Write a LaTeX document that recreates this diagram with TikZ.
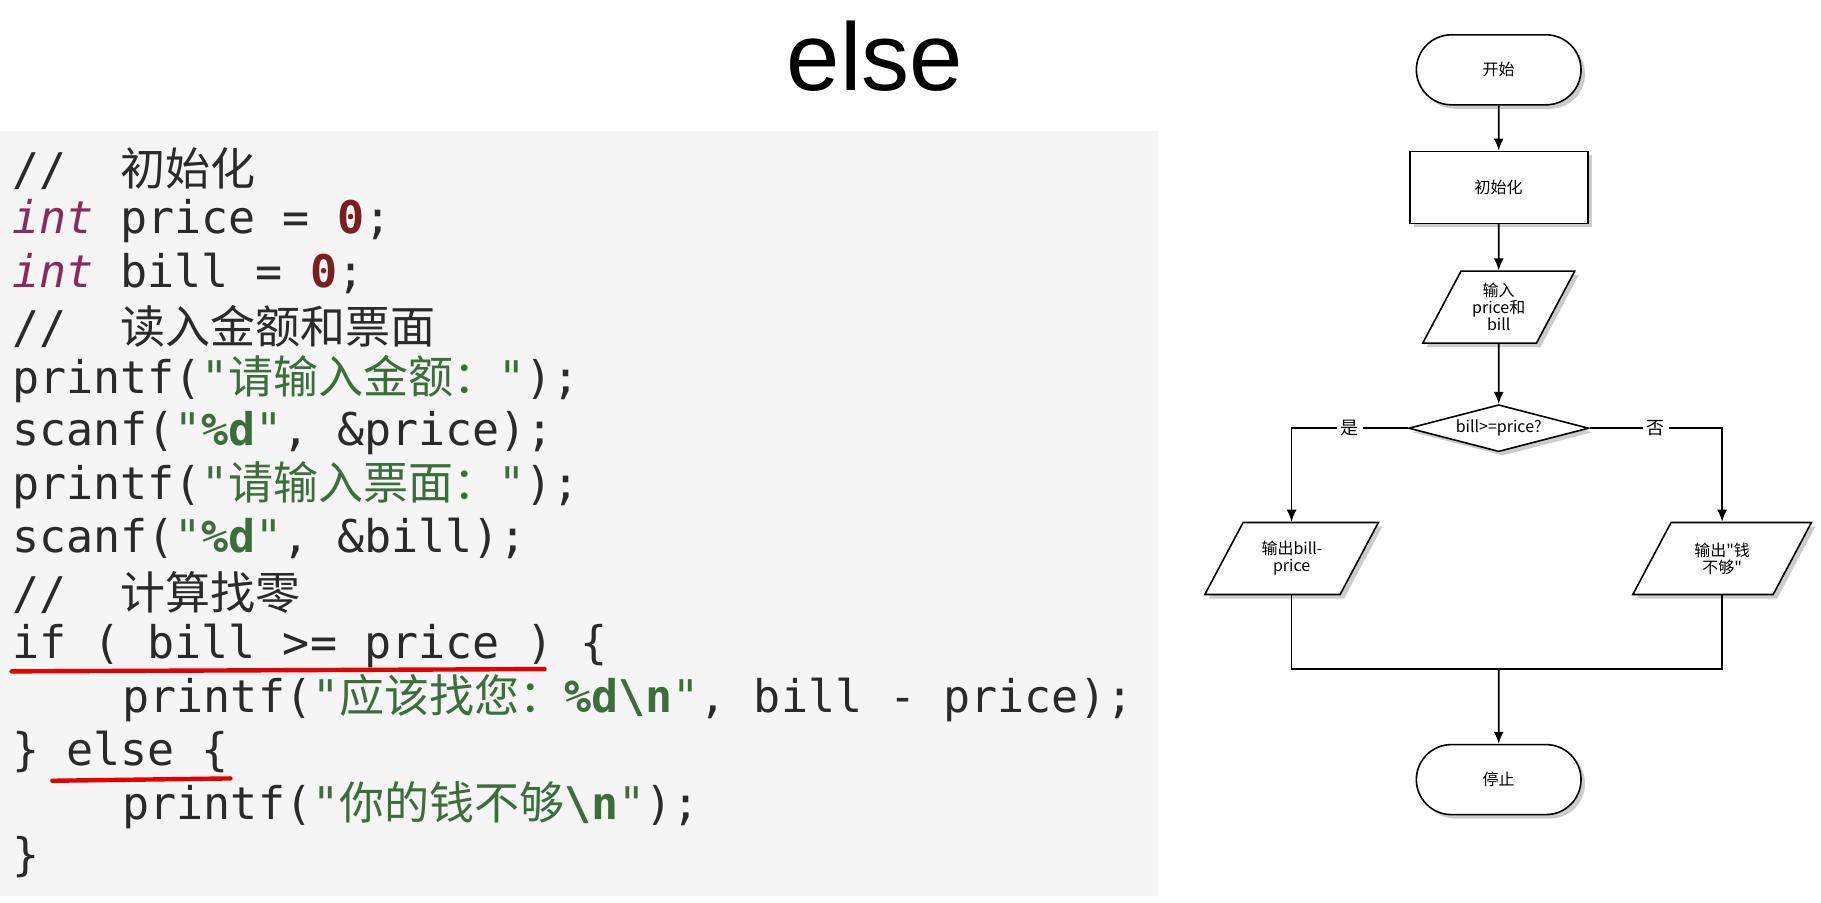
\documentclass[tikz,border=0pt]{standalone}
\usepackage{fontspec}
\setmainfont{Liberation Sans}
\newfontfamily\mono{DejaVu Sans Mono}
\newfontfamily\cjk{Noto Sans CJK SC}
\usetikzlibrary{shapes.geometric,shapes.misc,shadows,arrows.meta}
\definecolor{kw}{HTML}{8B2A5A}
\definecolor{num}{HTML}{7A1F1F}
\definecolor{str}{HTML}{3C6E3C}
\definecolor{txt}{HTML}{2A2A2A}
\definecolor{bgc}{HTML}{F5F5F5}
\newcommand{\zh}[1]{{\cjk #1}}
\begin{document}
\begin{tikzpicture}[x=0.5818pt,y=-0.5818pt,
  code/.style={anchor=west,inner sep=0pt,font=\mono\fontsize{22.5}{22.5}\selectfont,text=txt},
  fc/.style={draw=black,fill=white,line width=0.8pt,font=\cjk\fontsize{8}{8.5}\selectfont,align=center,drop shadow={shadow xshift=2pt,shadow yshift=-2pt,opacity=0.4}},
  term/.style={fc,rounded rectangle,minimum width=89pt,minimum height=35pt},
  box/.style={fc,rectangle,minimum width=89pt,minimum height=36pt},
  io/.style={fc,trapezium,trapezium left angle=62,trapezium right angle=118,minimum height=36pt,text width=30pt,inner xsep=1pt},
  dec/.style={fc,diamond,aspect=2.8,minimum width=90pt,inner sep=0pt},
  arr/.style={-{Latex[length=6pt,width=5pt]},line width=0.8pt},
  ln/.style={line width=0.8pt},
  lab/.style={font=\cjk\fontsize{9}{9}\selectfont,fill=white,inner sep=2pt}]
\useasboundingbox (0,0) rectangle (1565,776);
\fill[white] (0,0) rectangle (1565,776);
\fill[bgc] (0,113) rectangle (995,770);
\node[font=\fontsize{48}{48}\selectfont] (title) at (752,48) {else};
% code
\node[code] (l1) at (10,145) {//\ \ \zh{初始化}};
\node[code] (l2) at (10,190) {\textcolor{kw}{\itshape int} price = \textcolor{num}{\bfseries 0};};
\node[code] (l3) at (10,235) {\textcolor{kw}{\itshape int} bill = \textcolor{num}{\bfseries 0};};
\node[code] (l4) at (10,281) {//\ \ \zh{读入金额和票面}};
\node[code] (l5) at (10,326) {printf(\textcolor{str}{"\zh{请输入金额：}"});};
\node[code] (l6) at (10,372) {scanf(\textcolor{str}{"\textbf{\%d}"}, \&price);};
\node[code] (l7) at (10,417) {printf(\textcolor{str}{"\zh{请输入票面：}"});};
\node[code] (l8) at (10,463) {scanf(\textcolor{str}{"\textbf{\%d}"}, \&bill);};
\node[code] (l9) at (10,509) {//\ \ \zh{计算找零}};
\node[code] (l10) at (10,555) {if ( bill >= price ) \{};
\node[code] (l11) at (105,600) {printf(\textcolor{str}{"\zh{应该找您：}\textbf{\%d\textbackslash n}"}, bill - price);};
\node[code] (l12) at (10,646) {\} else \{};
\node[code] (l13) at (105,692) {printf(\textcolor{str}{"\zh{你的钱不够}\textbf{\textbackslash n}"});};
\node[code] (l14) at (10,737) {\}};
\draw[red!90!black,line width=2.2pt,line cap=round] (10,577) -- (468,575);
\draw[red!90!black,line width=2.2pt,line cap=round] (45,671) -- (198,669);
% flowchart
\node[term] (start) at (1288,60) {开始};
\node[box] (init) at (1288,161) {初始化};
\node[io] (in) at (1288,264) {输入\\\mbox{price和}\\bill};
\node[dec] (d) at (1288,368) {bill>=price?};
\node[io] (o1) at (1110,480) {\mbox{输出bill-}\\price};
\node[io] (o2) at (1480,480) {\mbox{输出"钱}\\\mbox{不够"}};
\node[term] (stop) at (1288,670) {停止};
\coordinate (j) at (1288,575);
\draw[arr] (start) -- (init);
\draw[arr] (init) -- (in);
\draw[arr] (in) -- (d);
\draw[arr] (d.west) -| node[lab,pos=0.25]{是} (o1.north);
\draw[arr] (d.east) -| node[lab,pos=0.25]{否} (o2.north);
\draw[ln] (o1.south) |- (j);
\draw[ln] (o2.south) |- (j);
\draw[arr] (j) -- (stop);
\end{tikzpicture}
\end{document}
